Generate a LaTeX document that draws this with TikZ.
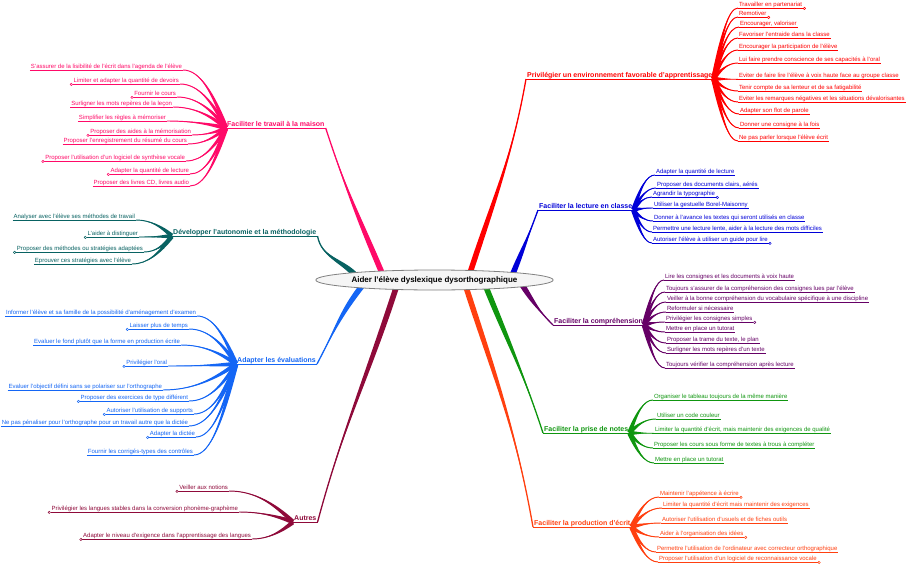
\documentclass[tikz,border=0pt]{standalone}
\usepackage{fontspec}
\setmainfont{Liberation Sans}
\usetikzlibrary{calc,shapes.geometric}
\definecolor{cRed}{HTML}{FF0000}
\definecolor{cBlueR}{HTML}{0000D8}
\definecolor{cPur}{HTML}{660066}
\definecolor{cGre}{HTML}{0F960F}
\definecolor{cOra}{HTML}{FF4010}
\definecolor{cPink}{HTML}{FF0A68}
\definecolor{cTeal}{HTML}{086262}
\definecolor{cBlueL}{HTML}{1466F5}
\definecolor{cMar}{HTML}{8F0A3A}
\def\hw{2.4}
\def\mw{2.8}
\newcommand\leafconn[2]{%
  \fill[bc] let \p1=(#1), \p2=(#2), \n1={atan2(\y2-\y1,\x2-\x1)}, \n2={\hw*sin(\n1)}, \n3={\hw*cos(\n1)} in
   ({\x1+(\n2)},{\y1-(\n3)}) .. controls ({\x1+0.3*\x2-0.3*\x1+0.5*(\n2)},{\y1+0.6*\y2-0.6*\y1-0.5*(\n3)}) and ({0.4*\x1+0.6*\x2},{\y2}) .. (\x2,\y2)
   .. controls ({0.4*\x1+0.6*\x2},{\y2}) and ({\x1+0.3*\x2-0.3*\x1-0.5*(\n2)},{\y1+0.6*\y2-0.6*\y1+0.5*(\n3)}) .. ({\x1-(\n2)},{\y1+(\n3)}) -- cycle;
  \draw[bc, line width=0.95pt] let \p1=(#1), \p2=(#2) in (\x1,\y1) .. controls ({\x1+0.3*\x2-0.3*\x1},{\y1+0.6*\y2-0.6*\y1}) and ({0.4*\x1+0.6*\x2},{\y2}) .. (\x2,\y2);
}
\newcommand\lfR[5]{%
  \node[leaf, anchor=south west] (#1) at (#3,#4) {#5};
  \draw[uline] (#1.south west) -- (#1.south east);
  \leafconn{#2}{#1.south west}}
\newcommand\lfRc[5]{\lfR{#1}{#2}{#3}{#4}{#5}\draw[knob] ($(#1.south east)+(1.3,0.4)$) circle (1.2pt);}
\newcommand\lfL[5]{%
  \node[leaf, anchor=south east] (#1) at (#3,#4) {#5};
  \draw[uline] (#1.south west) -- (#1.south east);
  \leafconn{#2}{#1.south east}}
\newcommand\lfLc[5]{\lfL{#1}{#2}{#3}{#4}{#5}\draw[knob] ($(#1.south west)+(-1.3,0.4)$) circle (1.2pt);}
\newcommand\mainconn[4]{%
  \fill[bc] ($(#1)+({#3+90}:\mw pt)$) to[out=#3,in=#4] (#2) to[out=#4,in=#3] ($(#1)+({#3-90}:\mw pt)$) -- cycle;
  \draw[bc, line width=1.3pt] (#1) to[out=#3,in=#4] (#2);}
\begin{document}
\begin{tikzpicture}[x=1pt,y=-1pt,
  leaf/.style={text=bc, font=\fontsize{6}{7}\selectfont, inner xsep=0.8pt, inner ysep=0.5pt, text height=4.4pt, text depth=0.9pt},
  branch/.style={text=bc, font=\bfseries\fontsize{7}{8}\selectfont, inner xsep=1pt, inner ysep=0.6pt, text height=5.2pt, text depth=1.2pt},
  uline/.style={draw=bc, line width=0.7pt},
  buline/.style={draw=bc, line width=1pt},
  knob/.style={draw=bc, line width=0.5pt, fill=white}]
\fill[white] (0,0) rectangle (906,565);
\useasboundingbox (0,0) rectangle (906,565);
% ---------- red
\colorlet{bc}{cRed}
\node[branch, anchor=south west] (bRed) at (526,79) {Privilégier un environnement favorable d'apprentissage};
\draw[buline] (bRed.south west) -- (bRed.south east);
\coordinate (hRed) at (bRed.south east);
\lfRc{r1}{hRed}{738}{8}{Travailler en partenariat}
\lfRc{r2}{hRed}{738}{17}{Remotiver}
\lfR{r3}{hRed}{739}{27}{Encourager, valoriser}
\lfR{r4}{hRed}{738}{38}{Favoriser l'entraide dans la classe}
\lfR{r5}{hRed}{738}{50}{Encourager la participation de l'élève}
\lfR{r6}{hRed}{738}{63}{Lui faire prendre conscience de ses capacités à l'oral}
\lfR{r7}{hRed}{738}{79}{Eviter de faire lire l'élève à voix haute face au groupe classe}
\lfR{r8}{hRed}{738}{91}{Tenir compte de sa lenteur et de sa fatigabilité}
\lfR{r9}{hRed}{738}{102}{Eviter les remarques négatives et les situations dévalorisantes}
\lfR{r10}{hRed}{739}{114}{Adapter son flot de parole}
\lfR{r11}{hRed}{739}{128}{Donner une consigne à la fois}
\lfR{r12}{hRed}{738}{141}{Ne pas parler lorsque l'élève écrit}
% ---------- blue right
\colorlet{bc}{cBlueR}
\node[branch, anchor=south west] (bBlue) at (538,210) {Faciliter la lecture en classe};
\draw[buline] (bBlue.south west) -- (bBlue.south east);
\coordinate (hBlue) at (bBlue.south east);
\lfR{b1}{hBlue}{655}{175}{Adapter la quantité de lecture}
\lfR{b2}{hBlue}{656}{188}{Proposer des documents clairs, aérés}
\lfRc{b3}{hBlue}{652}{197}{Agrandir la typographie}
\lfR{b4}{hBlue}{653}{208}{Utiliser la gestuelle Borel-Maisonny}
\lfR{b5}{hBlue}{653}{221}{Donner à l'avance les textes qui seront utilisés en classe}
\lfR{b6}{hBlue}{652}{232}{Permettre une lecture lente, aider à la lecture des mots difficiles}
\lfRc{b7}{hBlue}{652}{243}{Autoriser l'élève à utiliser un guide pour lire}
% ---------- purple
\colorlet{bc}{cPur}
\node[branch, anchor=south west] (bPur) at (553,325) {Faciliter la compréhension};
\draw[buline] (bPur.south west) -- (bPur.south east);
\coordinate (hPur) at (bPur.south east);
\lfR{p1}{hPur}{664}{280}{Lire les consignes et les documents à voix haute}
\lfR{p2}{hPur}{665}{292}{Toujours s'assurer de la compréhension des consignes lues par l'élève}
\lfR{p3}{hPur}{666}{302}{Veiller à la bonne compréhension du vocabulaire spécifique à une discipline}
\lfR{p4}{hPur}{666}{312}{Reformuler si nécessaire}
\lfRc{p5}{hPur}{665}{322}{Privilégier les consignes simples}
\lfR{p6}{hPur}{665}{332}{Mettre en place un tutorat}
\lfR{p7}{hPur}{666}{343}{Proposer la trame du texte, le plan}
\lfR{p8}{hPur}{666}{353}{Surligner les mots repères d'un texte}
\lfR{p9}{hPur}{665}{368}{Toujours vérifier la compréhension après lecture}
% ---------- green
\colorlet{bc}{cGre}
\node[branch, anchor=south west] (bGre) at (543,433) {Faciliter la prise de notes};
\draw[buline] (bGre.south west) -- (bGre.south east);
\coordinate (hGre) at (bGre.south east);
\lfR{g1}{hGre}{653}{400}{Organiser le tableau toujours de la même manière}
\lfR{g2}{hGre}{656}{419}{Utiliser un code couleur}
\lfR{g3}{hGre}{654}{433}{Limiter la quantité d'écrit, mais maintenir des exigences de qualité}
\lfR{g4}{hGre}{653}{448}{Proposer les cours sous forme de textes à trous à compléter}
\lfR{g5}{hGre}{654}{463}{Mettre en place un tutorat}
% ---------- orange
\colorlet{bc}{cOra}
\node[branch, anchor=south west] (bOra) at (533,527) {Faciliter la production d'écrit};
\draw[buline] (bOra.south west) -- (bOra.south east);
\coordinate (hOra) at (bOra.south east);
\lfRc{o1}{hOra}{659}{497}{Maintenir l'appétence à écrire}
\lfR{o2}{hOra}{662}{508}{Limiter la quantité d'écrit mais maintenir des exigences}
\lfR{o3}{hOra}{661}{523}{Autoriser l'utilisation d'usuels et de fiches outils}
\lfRc{o4}{hOra}{659}{537}{Aider à l'organisation des idées}
\lfR{o5}{hOra}{656}{552}{Permettre l'utilisation de l'ordinateur avec correcteur orthographique}
\lfRc{o6}{hOra}{658}{562}{Proposer l'utilisation d'un logiciel de reconnaissance vocale}
% ---------- pink
\colorlet{bc}{cPink}
\node[branch, anchor=south west] (bPink) at (226,128) {Faciliter le travail à la maison};
\draw[buline] (bPink.south west) -- (bPink.south east);
\coordinate (hPink) at (bPink.south west);
\lfL{k1}{hPink}{183}{70}{S'assurer de la lisibilité de l'écrit dans l'agenda de l'élève}
\lfLc{k2}{hPink}{180}{84}{Limiter et adapter la quantité de devoirs}
\lfLc{k3}{hPink}{177}{97}{Fournir le cours}
\lfL{k4}{hPink}{173}{107}{Surligner les mots repères de la leçon}
\lfL{k5}{hPink}{167}{121}{Simplifier les règles à mémoriser}
\lfLc{k6}{hPink}{192}{135}{Proposer des aides à la mémorisation}
\lfL{k7}{hPink}{188}{144}{Proposer l'enregistrement du résumé du cours}
\lfLc{k8}{hPink}{186}{161}{Proposer l'utilisation d'un logiciel de synthèse vocale}
\lfLc{k9}{hPink}{190}{174}{Adapter la quantité de lecture}
\lfL{k10}{hPink}{190}{186}{Proposer des livres CD, livres audio}
% ---------- teal
\colorlet{bc}{cTeal}
\node[branch, anchor=south west] (bTeal) at (172,236) {Développer l'autonomie et la méthodologie};
\draw[buline] (bTeal.south west) -- (bTeal.south east);
\coordinate (hTeal) at (bTeal.south west);
\lfL{t1}{hTeal}{136}{220}{Analyser avec l'élève ses méthodes de travail}
\lfLc{t2}{hTeal}{139}{237}{L'aider à distinguer}
\lfLc{t3}{hTeal}{144}{252}{Proposer des méthodes ou stratégies adaptées}
\lfL{t4}{hTeal}{132}{264}{Eprouver ces stratégies avec l'élève}
% ---------- blue left
\colorlet{bc}{cBlueL}
\node[branch, anchor=south west] (bBlL) at (236,364) {Adapter les évaluations};
\draw[buline] (bBlL.south west) -- (bBlL.south east);
\coordinate (hBlL) at (bBlL.south west);
\lfL{e1}{hBlL}{197}{316}{Informer l'élève et sa famille de la possibilité d'aménagement d'examen}
\lfLc{e2}{hBlL}{189}{329}{Laisser plus de temps}
\lfL{e3}{hBlL}{181}{345}{Evaluer le fond plutôt que la forme en production écrite}
\lfLc{e4}{hBlL}{168}{366}{Privilégier l'oral}
\lfL{e5}{hBlL}{163}{390}{Evaluer l'objectif défini sans se polariser sur l'orthographe}
\lfLc{e6}{hBlL}{189}{401}{Proposer des exercices de type différent}
\lfLc{e7}{hBlL}{194}{414}{Autoriser l'utilisation de supports}
\lfL{e8}{hBlL}{189}{426}{Ne pas pénaliser pour l'orthographe pour un travail autre que la dictée}
\lfLc{e9}{hBlL}{196}{437}{Adapter la dictée}
\lfL{e10}{hBlL}{194}{455}{Fournir les corrigés-types des contrôles}
% ---------- maroon
\colorlet{bc}{cMar}
\node[branch, anchor=south west] (bMar) at (293,522) {Autres};
\draw[buline] (bMar.south west) -- (bMar.south east);
\coordinate (hMar) at (bMar.south west);
\lfLc{m1}{hMar}{229}{491}{Veiller aux notions}
\lfLc{m2}{hMar}{239}{512}{Privilégier les langues stables dans la conversion phonème-graphème}
\lfLc{m3}{hMar}{252}{539}{Adapter le niveau d'exigence dans l'apprentissage des langues}
% ---------- main connectors
\coordinate (sRed) at (470,273);
\coordinate (sBlue) at (512,276);
\coordinate (sPur) at (521,283);
\coordinate (sGre) at (486,287);
\coordinate (sOra) at (466,287);
\coordinate (sPink) at (382,273);
\coordinate (sTeal) at (357,277);
\coordinate (sBlL) at (362,286);
\coordinate (sMar) at (396,288);
\colorlet{bc}{cRed}\mainconn{sRed}{bRed.south west}{72}{-100}
\colorlet{bc}{cBlueR}\mainconn{sBlue}{bBlue.south west}{68}{-110}
\colorlet{bc}{cPur}\mainconn{sPur}{bPur.south west}{-58}{135}
\colorlet{bc}{cGre}\mainconn{sGre}{bGre.south west}{-68}{108}
\colorlet{bc}{cOra}\mainconn{sOra}{bOra.south west}{-72}{100}
\colorlet{bc}{cPink}\mainconn{sPink}{bPink.south east}{113}{-72}
\colorlet{bc}{cTeal}\mainconn{sTeal}{bTeal.south east}{130}{-80}
\colorlet{bc}{cBlueL}\mainconn{sBlL}{bBlL.south east}{-128}{62}
\colorlet{bc}{cMar}\mainconn{sMar}{bMar.south east}{-108}{75}
% ---------- centre
\node[ellipse, draw=black!50, fill=black!4, line width=0.8pt, inner xsep=1pt, inner ysep=0pt, minimum height=20pt, minimum width=183pt, font=\bfseries\fontsize{8}{9}\selectfont] (center) at (434.5,280) {Aider l'élève dyslexique dysorthographique};
\end{tikzpicture}
\end{document}
